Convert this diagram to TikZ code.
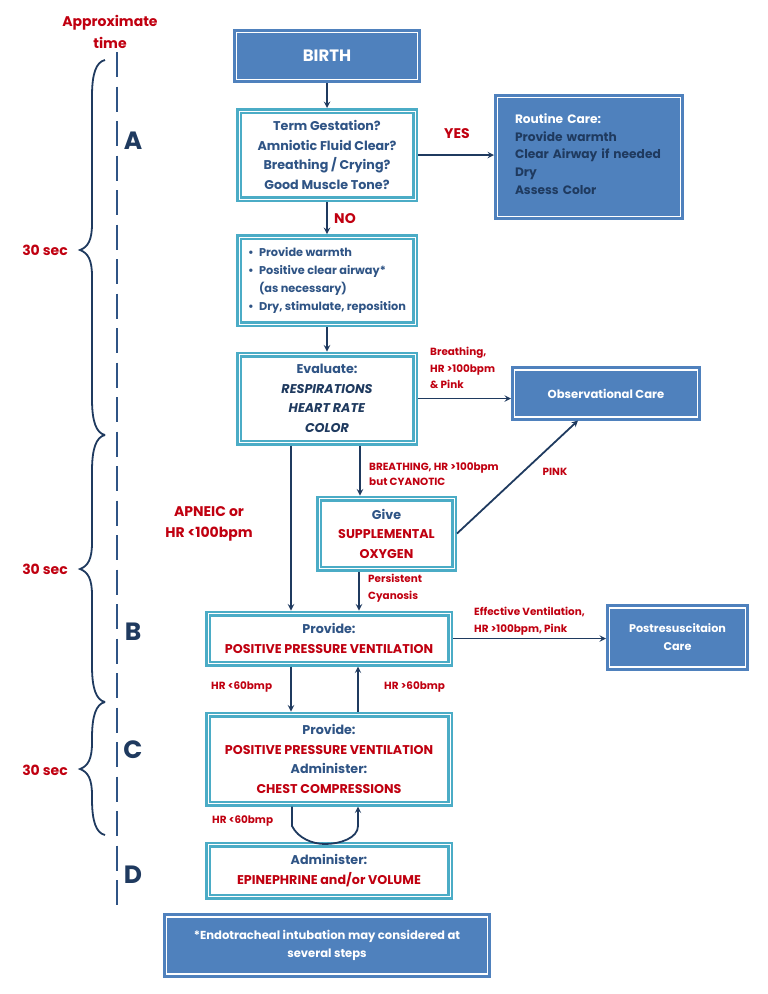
\documentclass[tikz,border=0pt]{standalone}
\usepackage{fontspec}
\setmainfont{Poppins}
\usetikzlibrary{shapes.geometric, arrows}
\definecolor{boxblue}{HTML}{4F81BD}
\definecolor{boxteal}{HTML}{4BACC6}
\definecolor{inkblue}{HTML}{2F5485}
\definecolor{inkdark}{HTML}{1F3A5F}
\definecolor{inkred}{HTML}{C00010}
\tikzstyle{tealbox} = [rectangle, draw=boxteal, double=white, double distance=1pt, line width=2.5pt, fill=white, outer sep=3pt, inner sep=2pt, align=center, text=inkblue, font=\fontsize{12.7}{19.5}\selectfont\bfseries]
\tikzstyle{bluebox} = [rectangle, draw=boxblue, double=white, double distance=1.2pt, line width=3pt, fill=boxblue, outer sep=3.5pt, inner sep=2pt, align=center, text=white, font=\fontsize{11.6}{18}\selectfont\bfseries]
\tikzstyle{arrow} = [draw=inkdark, line width=1.8pt, ->, >=stealth]
\tikzstyle{redlabel} = [inner sep=0pt, align=left, text=inkred, font=\fontsize{10.4}{16.5}\selectfont\bfseries]
\tikzstyle{bigred} = [inner sep=0pt, align=center, text=inkred, font=\fontsize{14}{21.5}\selectfont\bfseries]
\tikzstyle{phase} = [inner sep=0pt, text=inkdark, font=\fontsize{25}{25}\selectfont\bfseries]
\tikzstyle{bracket} = [draw=inkdark, line width=1.8pt]
\newcommand{\hot}[1]{\textcolor{inkred}{#1}}
\newcommand{\dark}[1]{\textcolor{inkdark}{#1}}
\newcommand{\point}{\makebox[11pt][l]{\textbullet}}
\begin{document}
\begin{tikzpicture}[x=1pt, y=-1pt]
  \useasboundingbox (0,0) rectangle (768,994);
  % flow boxes
  \node (birth) [bluebox, minimum width=181pt, minimum height=47pt, font=\fontsize{16.5}{18}\selectfont\bfseries] at (327,56) {BIRTH};
  \node (term) [tealbox, node distance=99pt, below of=birth, minimum width=176pt, minimum height=88pt] {Term Gestation?\\Amniotic Fluid Clear?\\Breathing / Crying?\\Good Muscle Tone?};
  \node (warmth) [tealbox, node distance=125.5pt, below of=term, minimum width=176pt, minimum height=87pt, font=\fontsize{11.3}{18}\selectfont\bfseries, align=left] {\point Provide warmth\\\point Positive clear airway*\\\phantom{\point}(as necessary)\\\point Dry, stimulate, reposition};
  \node (eval) [tealbox, node distance=118pt, below of=warmth, minimum width=176pt, minimum height=88pt] {Evaluate:\\\dark{\textit{RESPIRATIONS}}\\\dark{\textit{HEART RATE}}\\\dark{\textit{COLOR}}};
  \node (routine) [bluebox, node distance=262pt, right of=term, yshift=-2pt, minimum width=183pt, minimum height=119pt, text=inkdark, text width=148pt, align=left, font=\fontsize{12.2}{17.8}\selectfont\bfseries] {\textcolor{white}{Routine Care:}\\Provide warmth\\Clear Airway if needed\\Dry\\Assess Color\rule[-6pt]{0pt}{0pt}};
  \node (obs) [bluebox, node distance=279pt, right of=eval, yshift=5pt, minimum width=183pt, minimum height=47pt] {Observational Care};
  \node (give) [tealbox, node distance=135pt, below of=eval, xshift=59.5pt, minimum width=135pt, minimum height=70pt] {Give\\\hot{SUPPLEMENTAL}\\\hot{OXYGEN}};
  \node (ppv) [tealbox, node distance=240pt, below of=eval, xshift=2pt, minimum width=242pt, minimum height=50pt] {Provide:\\\hot{POSITIVE PRESSURE VENTILATION}};
  \node (post) [bluebox, node distance=348.5pt, right of=ppv, yshift=1pt, minimum width=136pt, minimum height=59pt, font=\fontsize{11.2}{18}\selectfont\bfseries] {Postresuscitaion\\Care};
  \node (comp) [tealbox, node distance=120.5pt, below of=ppv, minimum width=242pt, minimum height=89pt] {Provide:\\\hot{POSITIVE PRESSURE VENTILATION}\\Administer:\\\hot{CHEST COMPRESSIONS}};
  \node (epi) [tealbox, node distance=111.5pt, below of=comp, minimum width=242pt, minimum height=52pt] {Administer:\\\hot{EPINEPHRINE and/or VOLUME}};
  \node (note) [bluebox, node distance=75pt, below of=epi, xshift=-2pt, minimum width=321pt, minimum height=57pt] {*Endotracheal intubation may considered at\\several steps};
  % time line
  \coordinate (linetop) at (117,52);
  \coordinate (linebot) at (117,906);
  \draw [draw=inkblue, line width=2.5pt, dash pattern=on 25pt off 9.5pt] (linetop) -- (linebot);
  \foreach \t/\m/\b in {60/250/435, 435/569/702, 702/769/835}
    \draw [bracket] (105,\t) .. controls (96,{\t+2}) and (92,{\t+14}) .. (92,{\t+36}) -- (92,{\m-26})
      .. controls (92,{\m-10}) and (88,{\m-3}) .. (80,\m)
      .. controls (88,{\m+3}) and (92,{\m+10}) .. (92,{\m+26}) -- (92,{\b-36})
      .. controls (92,{\b-14}) and (96,{\b-2}) .. (105,\b);
  % labels
  \node (approx) [bigred] at (110,32) {Approximate\\time};
  \node (sec1) [bigred] at (45,250) {30 sec};
  \node (sec2) [bigred] at (45,569) {30 sec};
  \node (sec3) [bigred] at (45,770) {30 sec};
  \node (phaseA) [phase] at (133,141) {A};
  \node (phaseB) [phase] at (133,632) {B};
  \node (phaseC) [phase] at (133,750) {C};
  \node (phaseD) [phase] at (133,875) {D};
  \node (yes) [bigred] at (457,134) {YES};
  \node (no) [bigred] at (345,219) {NO};
  \node (apneic) [bigred] at (209,524) {APNEIC or\\HR <100bpm};
  \node (breath) [redlabel, anchor=west] at (430,368) {Breathing,\\HR >100bpm\\\& Pink};
  \node (cyan) [redlabel, anchor=west, font=\fontsize{10.4}{15}\selectfont\bfseries] at (369,474.5) {BREATHING, HR >100bpm\\but CYANOTIC};
  \node (pink) [redlabel] at (555,472) {PINK};
  \node (persist) [redlabel, anchor=west] at (368,588) {Persistent\\Cyanosis};
  \node (effect) [redlabel, anchor=west] at (474,621) {Effective Ventilation,\\HR >100bpm, Pink};
  \node (low1) [redlabel, anchor=west] at (211,687) {HR <60bmp};
  \node (high1) [redlabel, anchor=west] at (384,687) {HR >60bmp};
  \node (low2) [redlabel, anchor=west] at (212,821) {HR <60bmp};
  % now connect
  \draw [arrow] (birth) -- (term);
  \draw [arrow] (term) -- (warmth);
  \draw [arrow] (warmth) -- (eval);
  \draw [arrow] (term.east) -- (term.east -| routine.west);
  \draw [arrow] (eval.east) -- (eval.east -| obs.west);
  \draw [arrow] ([xshift=-36pt]eval.south) -- ([xshift=-38pt]ppv.north);
  \draw [arrow] ([xshift=33pt]eval.south) -- ([xshift=-26.5pt]give.north);
  \draw [arrow] ([xshift=-27.5pt]give.south) -- ([xshift=30pt]ppv.north);
  \draw [arrow] (give.east) -- ([xshift=-28pt]obs.south);
  \draw [arrow] (ppv.east) -- (ppv.east -| post.west);
  \draw [arrow] ([xshift=-38pt]ppv.south) -- ([xshift=-38pt]comp.north);
  \draw [arrow] ([xshift=29pt]comp.north) -- ([xshift=29pt]ppv.south);
  \coordinate (loopleft) at (292,826);
  \coordinate (loopbot) at (325,844);
  \coordinate (loopright) at (358,826);
  \draw [arrow] ([xshift=-37pt]comp.south) -- (loopleft) .. controls (298,838) and (312,844) .. (loopbot) .. controls (340,844) and (358,838) .. (loopright) -- ([xshift=29pt]comp.south);
\end{tikzpicture}
\end{document}
